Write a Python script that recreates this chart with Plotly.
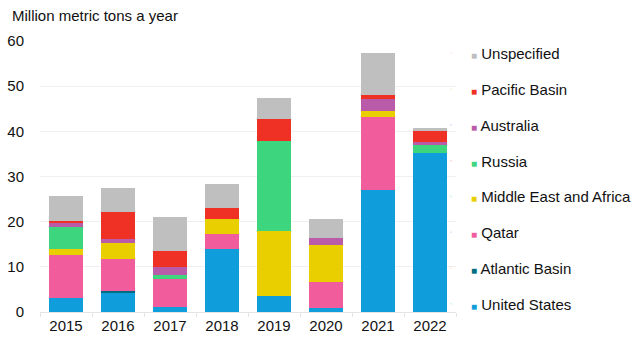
import plotly.graph_objects as go

years = ["2015", "2016", "2017", "2018", "2019", "2020", "2021", "2022"]

united_states = [3.2, 4.3, 1.0, 13.9, 3.6, 0.9, 27.0, 35.2]
atlantic_basin = [0.0, 0.3, 0.0, 0.0, 0.0, 0.0, 0.0, 0.0]
qatar = [9.5, 7.2, 6.2, 3.4, 0.0, 5.8, 16.1, 0.0]
middle_east_africa = [1.3, 3.5, 0.0, 3.2, 14.3, 8.1, 1.3, 0.0]
russia = [4.9, 0.0, 1.1, 0.0, 20.0, 0.0, 0.0, 1.8]
australia = [0.9, 0.8, 1.6, 0.0, 0.0, 1.5, 2.8, 0.7]
pacific_basin = [0.3, 6.1, 3.5, 2.6, 4.8, 0.0, 0.9, 2.4]
unspecified = [5.5, 5.2, 7.6, 5.2, 4.7, 4.2, 9.3, 0.6]

series = [
    ("United States", united_states, "#109DDB"),
    ("Atlantic Basin", atlantic_basin, "#006E82"),
    ("Qatar", qatar, "#F05C9C"),
    ("Middle East and Africa", middle_east_africa, "#E9CF00"),
    ("Russia", russia, "#3DD57D"),
    ("Australia", australia, "#B95BA8"),
    ("Pacific Basin", pacific_basin, "#EE3124"),
    ("Unspecified", unspecified, "#BFBFBF"),
]

fig = go.Figure()
for name, vals, color in series:
    fig.add_trace(go.Bar(
        x=years, y=vals, name=name, marker_color=color,
        marker_line_width=0, showlegend=False,
    ))

# legend entries (top to bottom: Unspecified ... United States)
for name, vals, color in reversed(series):
    fig.add_trace(go.Scatter(
        x=[None], y=[None], mode="markers",
        marker=dict(opacity=0, size=1),
        name=f'<span style="color:{color};font-size:10px">■</span> {name}',
        legendgroup=name, showlegend=True, hoverinfo="skip",
    ))

font = "Liberation Sans, Arial, sans-serif"
fig.update_layout(
    barmode="stack",
    bargap=0.35,
    width=640, height=347,
    margin=dict(l=40, r=184, t=41, b=35, autoexpand=False),
    plot_bgcolor="white", paper_bgcolor="white",
    font=dict(family=font, size=15, color="#111111"),
    title=dict(text="Million metric tons a year", x=12/640, xanchor="left",
               y=1 - 16/347, yanchor="middle", font=dict(size=15, color="#111111")),
    legend=dict(
        xref="container", yref="container",
        x=431/640, xanchor="left", y=1 - 37/347, yanchor="top",
        traceorder="grouped", tracegroupgap=13.3,
        font=dict(size=15, color="#111111"),
        bgcolor="rgba(0,0,0,0)", maxheight=1.0,
        itemclick=False, itemdoubleclick=False,
    ),
    showlegend=True,
)
fig.update_yaxes(range=[0, 60], dtick=10, gridcolor="#EFEFEF", zeroline=False,
                 ticks="outside", ticklen=12,
                 tickcolor="rgba(0,0,0,0)", showline=False)
fig.update_xaxes(showgrid=False, showline=True, linecolor="#E4E4E4", linewidth=1,
                 ticks="outside", tickson="boundaries", ticklen=4,
                 tickcolor="#E4E4E4", tickwidth=1)

fig.write_html("out.html")
